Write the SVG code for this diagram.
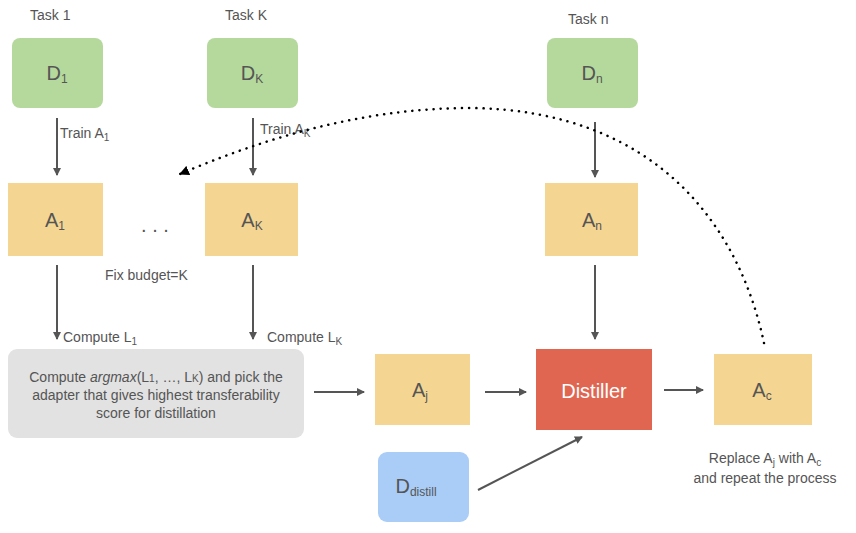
<svg xmlns="http://www.w3.org/2000/svg" width="856" height="533" viewBox="0 0 856 533">
<defs>
<marker id="ah" markerWidth="8" markerHeight="8" refX="7" refY="4" orient="auto" markerUnits="userSpaceOnUse"><path d="M0,0 L8,4 L0,8 z" fill="#555"/></marker>
<marker id="ahk" markerWidth="10" markerHeight="10" refX="9" refY="5" orient="auto" markerUnits="userSpaceOnUse"><path d="M0,0 L10,5 L0,10 z" fill="#000"/></marker>
<style>
text{font-family:"Helvetica","Liberation Sans",Arial,sans-serif;fill:#555}
.d{fill:#b5d99c}.a{fill:#f5d592}
.big{font-size:20px;text-anchor:middle}
.s{font-size:14px}
.c{stroke:#555;stroke-width:2;fill:none;marker-end:url(#ah)}
</style>
</defs>
<rect width="856" height="533" fill="#fff"/>
<text class="s" x="30" y="20">Task 1</text>
<text class="s" x="225" y="20">Task K</text>
<text class="s" x="568" y="24">Task n</text>
<g id="D1"><rect class="d" x="12" y="38" width="91" height="70" rx="8"/><text class="big" x="57" y="80">D<tspan font-size="12" dy="3">1</tspan></text></g>
<g id="DK"><rect class="d" x="207" y="38" width="91" height="70" rx="8"/><text class="big" x="252" y="80">D<tspan font-size="12" dy="3">K</tspan></text></g>
<g id="Dn"><rect class="d" x="547" y="38" width="91" height="70" rx="8"/><text class="big" x="592" y="80">D<tspan font-size="12" dy="3">n</tspan></text></g>
<g id="A1"><rect class="a" x="8" y="183" width="95" height="73"/><text class="big" x="55" y="227">A<tspan font-size="12" dy="3">1</tspan></text></g>
<g id="AK"><rect class="a" x="205" y="183" width="93" height="73"/><text class="big" x="252" y="227">A<tspan font-size="12" dy="3">K</tspan></text></g>
<g id="An"><rect class="a" x="545" y="183" width="93" height="73"/><text class="big" x="592" y="227">A<tspan font-size="12" dy="3">n</tspan></text></g>
<text x="155" y="232" font-size="20" text-anchor="middle">. . .</text>
<text class="s" x="105" y="280">Fix budget=K</text>
<g id="sel"><rect x="8" y="349" width="296" height="89" rx="9" fill="#e2e2e2"/>
<text font-size="14" text-anchor="middle"><tspan x="156" y="382">Compute <tspan font-style="italic">argmax</tspan>(L<tspan font-size="10">1</tspan>, …, L<tspan font-size="10">K</tspan>) and pick the</tspan><tspan x="156" y="400">adapter that gives highest transferability</tspan><tspan x="156" y="418">score for distillation</tspan></text></g>
<g id="Aj"><rect class="a" x="375" y="354" width="95" height="71"/><text class="big" x="420" y="397">A<tspan font-size="12" dy="3">j</tspan></text></g>
<g id="Distiller"><rect x="536" y="349" width="116" height="81" fill="#e06651"/><text class="big" x="594" y="398" style="fill:#fff">Distiller</text></g>
<g id="Ac"><rect class="a" x="714" y="354" width="98" height="71"/><text class="big" x="762" y="397">A<tspan font-size="12" dy="3">c</tspan></text></g>
<g id="Dd"><rect x="378" y="452" width="91" height="70" rx="9" fill="#a9cdf7"/><text class="big" x="416" y="493">D<tspan font-size="12" dy="3">distill</tspan></text></g>
<text class="s" x="60" y="138">Train A<tspan font-size="10" dy="3">1</tspan></text>
<text class="s" x="260" y="134">Train A<tspan font-size="10" dy="3">K</tspan></text>
<text class="s" x="63" y="342">Compute L<tspan font-size="10" dy="3">1</tspan></text>
<text class="s" x="267" y="342">Compute L<tspan font-size="10" dy="3">K</tspan></text>
<text class="s" text-anchor="middle"><tspan x="765" y="463">Replace A<tspan font-size="10" dy="3">j</tspan><tspan dy="-3"> with A</tspan><tspan font-size="10" dy="3">c</tspan></tspan><tspan x="765" y="483">and repeat the process</tspan></text>
<g id="connectors">
<path class="c" d="M57,118V175"/>
<path class="c" d="M253,118V175"/>
<path class="c" d="M595,122V177"/>
<path class="c" d="M57,265V339"/>
<path class="c" d="M253,265V339"/>
<path class="c" d="M595,265V339"/>
<path class="c" d="M314,392H364"/>
<path class="c" d="M485,392H526"/>
<path class="c" d="M664,390H703"/>
<path class="c" d="M478,490L582,437"/>
<path d="M764,343C740,230 660,110 470,108C360,108 260,140 180,174" fill="none" stroke="#000" stroke-width="2.5" stroke-dasharray="0.1 7" stroke-linecap="round" marker-end="url(#ahk)"/>
</g>
</svg>
